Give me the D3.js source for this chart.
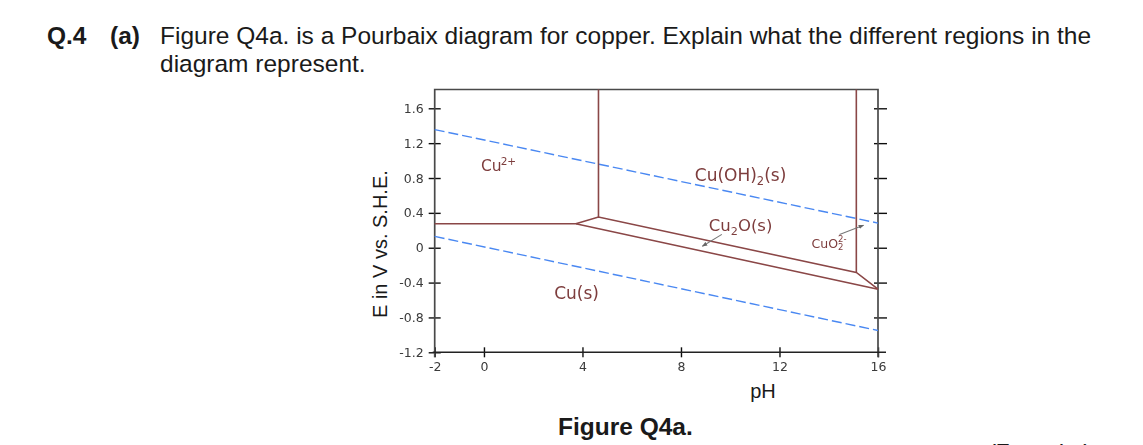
<!DOCTYPE html>
<html>
<head>
<meta charset="utf-8">
<script src="https://cdn.jsdelivr.net/npm/d3@7"></script>
<style>
html, body { margin: 0; padding: 0; background: #fff; overflow: hidden; }
svg { display: block; }
</style>
</head>
<body>
<svg id="page" width="1143" height="445"></svg>
<script>
// values
const phTicks = [-2, 0, 4, 8, 12, 16];
const eTicks = [-1.2, -0.8, -0.4, 0, 0.4, 0.8, 1.2, 1.6];
const waterUpper = [[-2, 1.356], [16, 0.283]];
const waterLower = [[-2, 0.13], [16, -0.95]];
const cuBoundary = [[-2, 0.276], [3.73, 0.276], [16, -0.476]];
const cu2oTop = [[3.73, 0.276], [4.65, 0.352], [15.12, -0.284], [16, -0.476]];
const cu2Wall = [[4.65, 0.352], [4.65, 1.816]];
const cuo2Wall = [[15.12, -0.284], [15.12, 1.816]];
const pointers = [
    [[9.66, 0.153], [8.87, 0.018]],
    [[14.44, 0.153], [15.41, 0.257]]
];

const svg = d3.select("#page");

const defs = svg.append("defs");
// the figure in the source is a soft, scaled-up bitmap
defs.append("filter").attr("id", "soft")
    .attr("x", "-5%").attr("y", "-5%").attr("width", "110%").attr("height", "110%")
    .append("feGaussianBlur").attr("stdDeviation", 0.6);
defs.append("marker").attr("id", "head")
    .attr("viewBox", "0 0 8 8").attr("refX", 7).attr("refY", 4)
    .attr("markerWidth", 5).attr("markerHeight", 5).attr("orient", "auto")
    .append("path").attr("d", "M0,1L8,4L0,7Z").attr("fill", "#666");

const sans = "'Liberation Sans', Arial, sans-serif";
const textRows = [
    { s: "Q.4", x: 47, y: 44, w: "bold" },
    { s: "(a)", x: 110, y: 44, w: "bold" },
    { s: "Figure Q4a. is a Pourbaix diagram for copper. Explain what the different regions in the", x: 160, y: 44, w: "normal" },
    { s: "diagram represent.", x: 160, y: 72, w: "normal" },
    { s: "Figure Q4a.", x: 558, y: 435, w: "bold" },
    { s: "(7 marks)", x: 988, y: 461, w: "normal" }
];
svg.append("g").selectAll("text").data(textRows).join("text")
    .attr("x", d => d.x).attr("y", d => d.y)
    .attr("font-family", sans).attr("font-size", 24.5)
    .attr("font-weight", d => d.w).attr("fill", "#1a1a1a")
    .text(d => d.s);

const x = d3.scaleLinear().domain([-2, 16]).range([434.7, 878]);
const y = d3.scaleLinear().domain([-1.2, 1.6]).range([352.3, 108.3]);
const frameTop = y(1.816);

const chart = svg.append("g").attr("filter", "url(#soft)");

function styleAxis(g) {
    g.select(".domain").remove();
    g.selectAll("line").attr("stroke", "#111").attr("stroke-width", 1.4);
    g.selectAll("text").attr("font-family", "'DejaVu Sans', sans-serif")
        .attr("font-size", 12.5).attr("fill", "#3a3a3a");
}

// ticks straddle the frame on the left, right and bottom
const leftAxis = chart.append("g").attr("transform", `translate(${x(-2)},0)`)
    .call(d3.axisLeft(y).tickValues(eTicks).tickFormat(d3.format(".1f")).tickSize(6).tickPadding(5))
    .call(styleAxis);
leftAxis.selectAll("line").attr("x1", -6).attr("x2", 6);
leftAxis.selectAll("text").text(d => d === 0 ? "0" : d3.format(".1f")(d).replace("\u2212", "-"));

const rightAxis = chart.append("g").attr("transform", `translate(${x(16)},0)`)
    .call(d3.axisRight(y).tickValues(eTicks.filter(d => d > -1.2)).tickFormat("").tickSize(9))
    .call(styleAxis);
rightAxis.selectAll("line").attr("x1", -4).attr("x2", 9);

const bottomAxis = chart.append("g").attr("transform", `translate(0,${y(-1.2)})`)
    .call(d3.axisBottom(x).tickValues(phTicks).tickFormat(d => String(d).replace("\u2212", "-")).tickSize(5).tickPadding(5))
    .call(styleAxis);
bottomAxis.selectAll("line").attr("y1", -5).attr("y2", 5);

// frame
chart.append("path")
    .attr("d", d3.line()([[x(-2), y(-1.2) + 5], [x(-2), frameTop], [x(16), frameTop], [x(16), y(-1.2) + 5]]))
    .attr("fill", "none").attr("stroke", "#4a4a4a").attr("stroke-width", 1.7);
chart.append("path")
    .attr("d", d3.line()([[x(-2) - 2, y(-1.2)], [x(16) + 8, y(-1.2)]]))
    .attr("stroke", "#222").attr("stroke-width", 1.5);

const line = d3.line().x(d => x(d[0])).y(d => y(d[1]));

chart.append("g").selectAll("path").data([waterUpper, waterLower]).join("path")
    .attr("d", line).attr("fill", "none")
    .attr("stroke", "#4a88f2").attr("stroke-width", 1.4).attr("stroke-dasharray", "10 4");

chart.append("g").selectAll("path").data([cuBoundary, cu2oTop, cu2Wall, cuo2Wall]).join("path")
    .attr("d", line).attr("fill", "none")
    .attr("stroke", "#8a4646").attr("stroke-width", 1.6);

chart.append("g").selectAll("path").data(pointers).join("path")
    .attr("d", line).attr("fill", "none")
    .attr("stroke", "#777").attr("stroke-width", 1.1).attr("marker-end", "url(#head)");

// region labels, each part: [text, shift, size factor, back-step]
const regionLabels = [
    { ph: -0.12, e: 0.88, size: 15.5, parts: [["Cu", 0, 1, 0], ["2+", -6, 0.68, -1]] },
    { ph: 2.85, e: -0.59, size: 17, parts: [["Cu(s)", 0, 1, 0]] },
    { ph: 8.56, e: 0.765, size: 17, parts: [["Cu(OH)", 0, 1, 0], ["2", 4, 0.68, 0], ["(s)", -4, 1, 0]] },
    { ph: 9.13, e: 0.19, size: 16.5, parts: [["Cu", 0, 1, 0], ["2", 4, 0.68, 0], ["O(s)", -4, 1, 0]] },
    { ph: 13.3, e: 0.0, size: 12.5, parts: [["CuO", 0, 1, 0], ["2", 2, 0.68, 0], ["2-", -8, 0.68, -5.4]] }
];
const labels = chart.append("g").selectAll("text").data(regionLabels).join("text")
    .attr("x", d => x(d.ph)).attr("y", d => y(d.e))
    .attr("font-family", "'DejaVu Sans', sans-serif")
    .attr("font-size", d => d.size).attr("fill", "#7d3c3c");
labels.selectAll("tspan").data(d => d.parts.map(p => [...p, d.size])).join("tspan")
    .attr("dy", d => d[1]).attr("dx", d => d[3])
    .attr("font-size", d => d[4] * d[2]).text(d => d[0]);

// axis titles
svg.append("text")
    .attr("transform", "translate(387,318) rotate(-90)")
    .attr("font-family", sans).attr("font-size", 20).attr("fill", "#1a1a1a")
    .text("E in V vs. S.H.E.");
svg.append("text")
    .attr("x", 763).attr("y", 398).attr("text-anchor", "middle")
    .attr("font-family", sans).attr("font-size", 20).attr("fill", "#1a1a1a")
    .text("pH");
</script>
</body>
</html>
